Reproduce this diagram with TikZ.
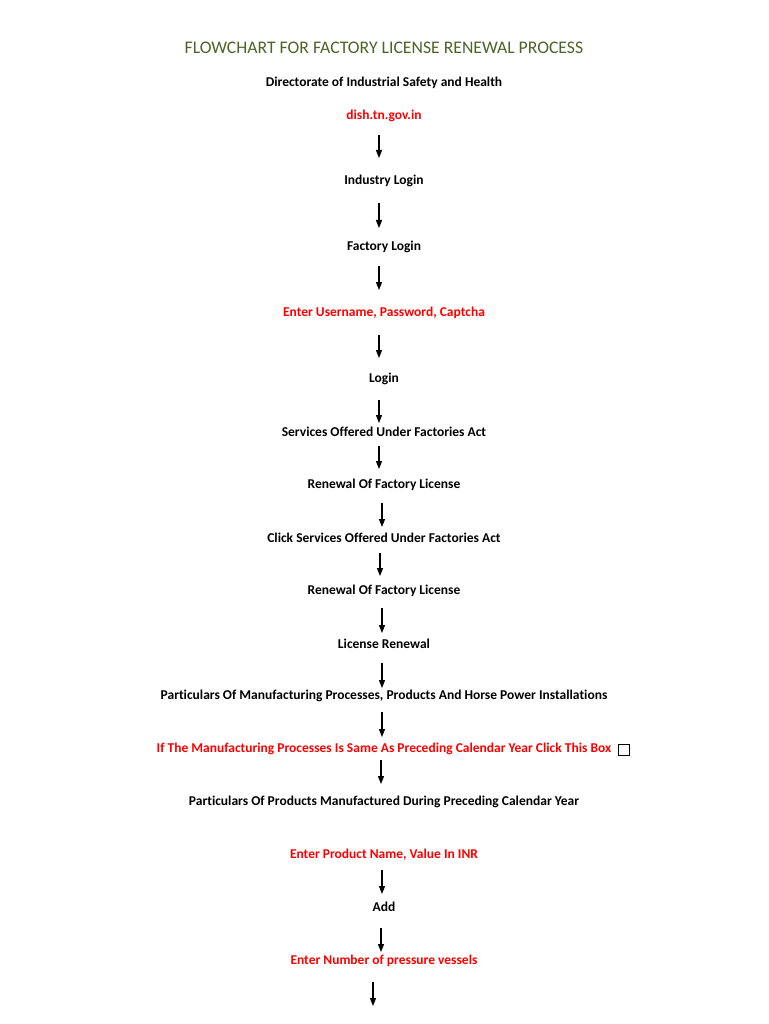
\documentclass[tikz,border=0pt]{standalone}
\usepackage{fontspec}
\setmainfont[Ligatures=NoCommon]{Carlito}
\usetikzlibrary{arrows.meta}
\definecolor{titlegreen}{HTML}{4F6228}
\definecolor{redtxt}{HTML}{FF0000}
\begin{document}
\begin{tikzpicture}[x=1pt,y=-1pt,
  lbl/.style={font=\bfseries\fontsize{13.5}{15}\selectfont,inner sep=0pt},
  red/.style={lbl,text=redtxt},
  arr/.style={-{Triangle[length=8pt,width=6pt]},line width=1.1pt}]
\useasboundingbox (0,0) rectangle (768,1024);
\node[font=\fontsize{17.7}{20}\selectfont,text=titlegreen] (title) at (384,48) {FLOWCHART FOR FACTORY LICENSE RENEWAL PROCESS};
\node[lbl] (n1) at (384,83) {Directorate of Industrial Safety and Health};
\node[red] (n2) at (384,116) {dish.tn.gov.in};
\node[lbl] (n3) at (384,181) {Industry Login};
\node[lbl] (n4) at (384,247) {Factory Login};
\node[red] (n5) at (384,313) {Enter Username, Password, Captcha};
\node[lbl] (n6) at (384,379) {Login};
\node[lbl] (n7) at (384,432) {Services Offered Under Factories Act};
\node[lbl] (n8) at (384,485) {Renewal Of Factory License};
\node[lbl] (n9) at (384,538) {Click Services Offered Under Factories Act};
\node[lbl] (n10) at (384,591) {Renewal Of Factory License};
\node[lbl] (n11) at (384,644) {License Renewal};
\node[lbl] (n12) at (384,696) {Particulars Of Manufacturing Processes, Products And Horse Power Installations};
\node[red] (n13) at (384,749) {If The Manufacturing Processes Is Same As Preceding Calendar Year Click This Box};
\node[draw,line width=0.7pt,minimum size=11pt,inner sep=0pt] (box) at (624,750) {};
\node[lbl] (n14) at (384,802) {Particulars Of Products Manufactured During Preceding Calendar Year};
\node[red] (n15) at (384,855) {Enter Product Name, Value In INR};
\node[lbl] (n16) at (384,907) {Add};
\node[red] (n17) at (384,961) {Enter Number of pressure vessels};
\foreach \i/\x/\a/\b in {1/379/135/158,2/379/203/228,3/379/266/290,4/379/335/358,5/379/400/423,6/379/446/469,7/382/503/527,8/380/553/576,9/382/608/633,10/382/663/688,11/382/712/737,12/381/760/784,13/382/870/894,14/381/928/952,15/373/982/1006}{
  \coordinate (s\i) at (\x,\a); \coordinate (e\i) at (\x,\b);
  \draw[arr] (s\i) -- (e\i);}
\end{tikzpicture}
\end{document}
